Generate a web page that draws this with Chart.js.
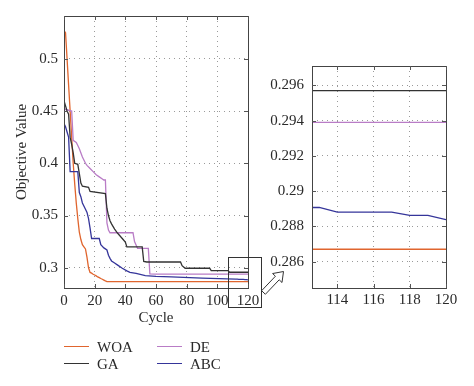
<!DOCTYPE html>
<html><head><meta charset="utf-8">
<script src="https://cdn.jsdelivr.net/npm/chart.js@4/dist/chart.umd.min.js"></script>
<style>
html,body{margin:0;padding:0;background:#fff;}
#wrap{position:relative;width:474px;height:386px;overflow:hidden;font-family:"Liberation Serif","Times New Roman",serif;}
canvas{position:absolute;left:0;top:0;}
.lg{position:absolute;font-size:15px;color:#2a2a2a;line-height:18px;white-space:nowrap;}
.ln{position:absolute;height:0;width:25px;border-top:1.5px solid;}
</style></head>
<body><div id="wrap">
<canvas id="main" width="474" height="386"></canvas>
<canvas id="inset" width="474" height="386"></canvas>
<div id="legend"></div>
</div>
<script>
// ---- data ----
const seriesNames = ['WOA', 'DE', 'GA', 'ABC'];
const woaX = [0,1,2,3,4,5,6,7,8,9,10,11,12,13,14,15,16,17,18,19,20,21,22,23,24,25,26,27,28,120];
const woaY = [0.527,0.525,0.50,0.475,0.45,0.425,0.40,0.38,0.362,0.347,0.334,0.327,0.322,0.320,0.318,0.310,0.300,0.2955,0.2948,0.2938,0.293,0.2922,0.2912,0.2905,0.2897,0.289,0.2882,0.2874,0.2867,0.2867];
const gaX = [0,1,2,3,4,5,6,7,9,10,11,12,16,17,27,28,29,30,31,33,35,38,40,41,51,52,54,76,77,79,95,96,107,108,120];
const gaY = [0.46,0.455,0.45,0.447,0.425,0.418,0.41,0.40,0.399,0.39,0.381,0.378,0.377,0.373,0.371,0.357,0.35,0.345,0.342,0.337,0.333,0.328,0.3245,0.32,0.32,0.306,0.3055,0.3055,0.302,0.2995,0.2995,0.2972,0.2972,0.2957,0.2957];
const deX = [0,5,6,8,9,10,12,14,15,17,19,21,23,25,26,27,28,29,30,45,46,48,50,55,56,60,120];
const deY = [0.452,0.45,0.422,0.420,0.417,0.414,0.406,0.40,0.398,0.395,0.392,0.389,0.387,0.385,0.384,0.384,0.343,0.336,0.3335,0.3335,0.325,0.3185,0.3185,0.3185,0.2942,0.2939,0.2939];
const abcX = [0,1,2,3,4,9,10,11,12,14,15,16,17,18,23,24,26,28,29,30,31,33,35,38,41,43,47,53,60,70,90,112,113,114,117,118,119,120];
const abcY = [0.438,0.435,0.43,0.425,0.392,0.392,0.372,0.368,0.362,0.356,0.353,0.347,0.338,0.328,0.328,0.322,0.319,0.317,0.312,0.309,0.3065,0.3045,0.3025,0.2995,0.297,0.2955,0.2945,0.2925,0.2918,0.2912,0.2900,0.28907,0.28907,0.28881,0.28881,0.28862,0.28862,0.28838];

const mainXTicks = [0,20,40,60,80,100,120];
const mainYTicks = [0.3,0.35,0.4,0.45,0.5];
const insetXTicks = [114,116,118,120];
const insetYTicks = [0.286,0.288,0.29,0.292,0.294,0.296];
const zoomBox = [107,128.3,0.2627,0.3099]; // x from, x to, y from, y to (in main-axis units)

// ---- styling ----
const FONT = "'Liberation Serif','Times New Roman',serif";
const TXT = '#2a2a2a';
const colors = {WOA:'#e0652e', DE:'#b97cc6', GA:'#333333', ABC:'#35359a'};

function ds(name, xs, ys){
  return {label:name, data:xs.map((x,i)=>({x:x, y:ys[i]})), borderColor:colors[name],
    backgroundColor:colors[name], borderWidth:1.3, pointRadius:0, tension:0, fill:false};
}
function datasets(){
  return [ds('WOA',woaX,woaY), ds('DE',deX,deY), ds('GA',gaX,gaY), ds('ABC',abcX,abcY)].reverse();
}
const fmt = v => String(+Number(v).toFixed(4));

function line(ctx,x1,y1,x2,y2){ctx.beginPath();ctx.moveTo(x1,y1);ctx.lineTo(x2,y2);ctx.stroke();}

const framePlugin = {
  id:'frame',
  afterDraw(chart){
    const {ctx, chartArea:a, scales} = chart;
    ctx.save();
    ctx.strokeStyle = '#444'; ctx.lineWidth = 1;
    ctx.strokeRect(Math.round(a.left)+0.5, Math.round(a.top)+0.5, Math.round(a.right-a.left), Math.round(a.bottom-a.top));
    ctx.strokeStyle = '#555';
    scales.x.ticks.forEach(t=>{
      const p = Math.round(scales.x.getPixelForValue(t.value))+0.5;
      line(ctx,p,a.bottom,p,a.bottom-4); line(ctx,p,a.top,p,a.top+4);
    });
    scales.y.ticks.forEach(t=>{
      const p = Math.round(scales.y.getPixelForValue(t.value))+0.5;
      line(ctx,a.left,p,a.left+4,p); line(ctx,a.right,p,a.right-4,p);
    });
    if (chart.canvas.id === 'main') {
      const x1 = Math.round(scales.x.getPixelForValue(zoomBox[0]))+0.5;
      const x2 = Math.round(scales.x.getPixelForValue(zoomBox[1]))+0.5;
      const y1 = Math.round(scales.y.getPixelForValue(zoomBox[3]))+0.5;
      const y2 = Math.round(scales.y.getPixelForValue(zoomBox[2]))+0.5;
      ctx.strokeStyle = '#333'; ctx.lineWidth = 1;
      ctx.strokeRect(x1,y1,x2-x1,y2-y1);
      // hollow arrow pointing up-right
      const tx = x2+2, ty = y2-15, hx = x2+22, hy = y2-36;
      const dx = hx-tx, dy = hy-ty, L = Math.hypot(dx,dy);
      const ux = dx/L, uy = dy/L, nx = -uy, ny = ux;
      const sw = 2.6, hw = 6.5, hl = 9;
      const bx = hx-ux*hl, by = hy-uy*hl;
      ctx.beginPath();
      ctx.moveTo(tx+nx*sw, ty+ny*sw);
      ctx.lineTo(bx+nx*sw, by+ny*sw);
      ctx.lineTo(bx+nx*hw, by+ny*hw);
      ctx.lineTo(hx, hy);
      ctx.lineTo(bx-nx*hw, by-ny*hw);
      ctx.lineTo(bx-nx*sw, by-ny*sw);
      ctx.lineTo(tx-nx*sw, ty-ny*sw);
      ctx.closePath();
      ctx.fillStyle = '#fff'; ctx.fill();
      ctx.strokeStyle = '#333'; ctx.stroke();
    }
    ctx.restore();
  }
};

function axisOpts(ticksArr, min, max, isX, extra){
  return Object.assign({
    type:'linear', min:min, max:max,
    afterBuildTicks: s => { s.ticks = ticksArr.map(v=>({value:v})); },
    ticks:{font:{family:FONT,size:15}, color:TXT, maxRotation:0, autoSkip:false, callback: fmt},
    grid:{color:'#9a9a9a', lineWidth:1, drawTicks:false},
    border:{display:false, dash:[1,4]}
  }, extra);
}

new Chart(document.getElementById('main'), {
  type:'line',
  data:{datasets:datasets()},
  plugins:[framePlugin],
  options:{
    responsive:false, animation:false, devicePixelRatio:1,
    layout:{padding:{left:0, top:16, right:226, bottom:58}},
    plugins:{legend:{display:false}, tooltip:{enabled:false}},
    scales:{
      x: axisOpts(mainXTicks, 0, 120, true, {
        afterFit: s => { s.height = 40; },
        title:{display:true, text:'Cycle', font:{family:FONT,size:15}, color:TXT, padding:{top:0,bottom:1}}
      }),
      y: axisOpts(mainYTicks, 0.2806, 0.541, false, {
        afterFit: s => { s.width = 64; },
        title:{display:true, text:'Objective Value', font:{family:FONT,size:15}, color:TXT, padding:{top:13,bottom:0}}
      })
    }
  }
});
// adjust tick paddings after creation-safe way: set via options
</script>
<script>
(function(){
  const c = Chart.getChart('main');
  c.options.scales.x.ticks.padding = 4;
  c.options.scales.y.ticks.padding = 6;
  c.update('none');
})();

new Chart(document.getElementById('inset'), {
  type:'line',
  data:{datasets:datasets()},
  plugins:[framePlugin],
  options:{
    responsive:false, animation:false, devicePixelRatio:1,
    layout:{padding:{left:250, top:66, right:28, bottom:68}},
    plugins:{legend:{display:false}, tooltip:{enabled:false}},
    scales:{
      x: axisOpts(insetXTicks, 112.6, 120, true, {afterFit: s => { s.height = 30; }}),
      y: axisOpts(insetYTicks, 0.2845, 0.2971, false, {afterFit: s => { s.width = 62; }})
    }
  }
});
(function(){
  const c = Chart.getChart('inset');
  c.options.scales.x.ticks.padding = 3;
  c.options.scales.y.ticks.padding = 8;
  c.update('none');
})();

// legend (HTML text)
(function(){
  const lg = document.getElementById('legend');
  const pos = {WOA:[64,347], DE:[157,347], GA:[64,364], ABC:[157,364]};
  seriesNames.forEach(n=>{
    const [x,y] = pos[n];
    const l = document.createElement('div'); l.className='ln';
    l.style.left = x+'px'; l.style.top = (y-1)+'px'; l.style.borderColor = colors[n];
    lg.appendChild(l);
    const t = document.createElement('div'); t.className='lg'; t.textContent = n;
    t.style.left = (x+33)+'px'; t.style.top = (y-9)+'px';
    lg.appendChild(t);
  });
})();
</script>
</body></html>
